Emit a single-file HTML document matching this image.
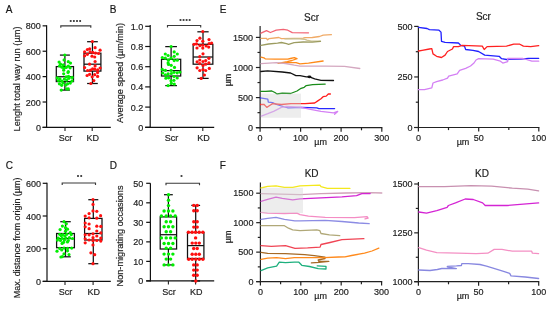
<!DOCTYPE html>
<html><head><meta charset="utf-8"><style>
html,body{margin:0;padding:0;background:#fff;}
body{width:550px;height:310px;overflow:hidden;}
svg{display:block;font-family:"Liberation Sans", sans-serif;will-change:transform;}
text{stroke:#222;stroke-width:0.18px;}
</style></head><body>
<svg width="550" height="310" viewBox="0 0 550 310">
<rect width="550" height="310" fill="#fff"/>
<text x="5.80" y="12.80" font-size="10" text-anchor="start" fill="#111" >A</text>
<line x1="46.60" y1="25.20" x2="46.60" y2="128.00" stroke="#111" stroke-width="1.2"/>
<line x1="42.60" y1="127.40" x2="110.80" y2="127.40" stroke="#111" stroke-width="1.2"/>
<line x1="42.60" y1="127.40" x2="46.60" y2="127.40" stroke="#111" stroke-width="1.2"/>
<text x="40.90" y="130.90" font-size="9" text-anchor="end" fill="#222" >0</text>
<line x1="42.60" y1="102.01" x2="46.60" y2="102.01" stroke="#111" stroke-width="1.2"/>
<text x="40.90" y="105.51" font-size="9" text-anchor="end" fill="#222" >200</text>
<line x1="42.60" y1="76.62" x2="46.60" y2="76.62" stroke="#111" stroke-width="1.2"/>
<text x="40.90" y="80.12" font-size="9" text-anchor="end" fill="#222" >400</text>
<line x1="42.60" y1="51.23" x2="46.60" y2="51.23" stroke="#111" stroke-width="1.2"/>
<text x="40.90" y="54.73" font-size="9" text-anchor="end" fill="#222" >600</text>
<line x1="42.60" y1="25.84" x2="46.60" y2="25.84" stroke="#111" stroke-width="1.2"/>
<text x="40.90" y="29.34" font-size="9" text-anchor="end" fill="#222" >800</text>
<text x="0" y="0" font-size="9" text-anchor="middle" fill="#222" transform="translate(20.00,79.00) rotate(-90)" textLength="105" lengthAdjust="spacingAndGlyphs">Lenght total way run (µm)</text>
<line x1="65.00" y1="127.40" x2="65.00" y2="131.00" stroke="#222" stroke-width="1.1"/>
<text x="65.60" y="141.20" font-size="9" text-anchor="middle" fill="#222" >Scr</text>
<rect x="56.30" y="66.60" width="17.20" height="15.00" fill="none" stroke="#111" stroke-width="1.25"/>
<line x1="56.30" y1="76.75" x2="73.50" y2="76.75" stroke="#111" stroke-width="1.25"/>
<line x1="64.90" y1="55.10" x2="64.90" y2="66.60" stroke="#111" stroke-width="1.25"/>
<line x1="64.90" y1="81.60" x2="64.90" y2="90.10" stroke="#111" stroke-width="1.25"/>
<line x1="59.90" y1="55.10" x2="69.90" y2="55.10" stroke="#111" stroke-width="1.25"/>
<line x1="59.90" y1="90.10" x2="69.90" y2="90.10" stroke="#111" stroke-width="1.25"/>
<circle cx="64.80" cy="55.00" r="1.6" fill="#00ee00"/>
<circle cx="64.10" cy="59.90" r="1.6" fill="#00ee00"/>
<circle cx="59.10" cy="62.10" r="1.6" fill="#00ee00"/>
<circle cx="68.30" cy="61.70" r="1.6" fill="#00ee00"/>
<circle cx="70.50" cy="63.10" r="1.6" fill="#00ee00"/>
<circle cx="60.50" cy="64.20" r="1.6" fill="#00ee00"/>
<circle cx="63.40" cy="64.90" r="1.6" fill="#00ee00"/>
<circle cx="59.50" cy="66.00" r="1.6" fill="#00ee00"/>
<circle cx="68.30" cy="66.00" r="1.6" fill="#00ee00"/>
<circle cx="70.10" cy="67.80" r="1.6" fill="#00ee00"/>
<circle cx="66.20" cy="67.40" r="1.6" fill="#00ee00"/>
<circle cx="61.90" cy="67.20" r="1.6" fill="#00ee00"/>
<circle cx="64.00" cy="68.30" r="1.6" fill="#00ee00"/>
<circle cx="63.70" cy="70.20" r="1.6" fill="#00ee00"/>
<circle cx="68.30" cy="71.50" r="1.6" fill="#00ee00"/>
<circle cx="63.70" cy="73.80" r="1.6" fill="#00ee00"/>
<circle cx="68.00" cy="72.50" r="1.6" fill="#00ee00"/>
<circle cx="68.50" cy="76.30" r="1.6" fill="#00ee00"/>
<circle cx="66.20" cy="76.75" r="1.6" fill="#00ee00"/>
<circle cx="57.20" cy="77.90" r="1.6" fill="#00ee00"/>
<circle cx="59.90" cy="78.80" r="1.6" fill="#00ee00"/>
<circle cx="64.40" cy="79.20" r="1.6" fill="#00ee00"/>
<circle cx="68.90" cy="78.30" r="1.6" fill="#00ee00"/>
<circle cx="72.10" cy="77.40" r="1.6" fill="#00ee00"/>
<circle cx="58.50" cy="80.60" r="1.6" fill="#00ee00"/>
<circle cx="61.70" cy="81.00" r="1.6" fill="#00ee00"/>
<circle cx="66.70" cy="80.10" r="1.6" fill="#00ee00"/>
<circle cx="72.10" cy="80.80" r="1.6" fill="#00ee00"/>
<circle cx="59.40" cy="83.80" r="1.6" fill="#00ee00"/>
<circle cx="63.00" cy="82.90" r="1.6" fill="#00ee00"/>
<circle cx="67.60" cy="83.80" r="1.6" fill="#00ee00"/>
<circle cx="70.30" cy="83.10" r="1.6" fill="#00ee00"/>
<circle cx="61.70" cy="85.30" r="1.6" fill="#00ee00"/>
<circle cx="65.80" cy="85.10" r="1.6" fill="#00ee00"/>
<circle cx="61.30" cy="90.10" r="1.6" fill="#00ee00"/>
<circle cx="66.70" cy="88.90" r="1.6" fill="#00ee00"/>
<circle cx="68.30" cy="88.90" r="1.6" fill="#00ee00"/>
<line x1="92.20" y1="127.40" x2="92.20" y2="131.00" stroke="#222" stroke-width="1.1"/>
<text x="92.80" y="141.20" font-size="9" text-anchor="middle" fill="#222" >KD</text>
<rect x="84.00" y="53.20" width="16.90" height="17.90" fill="none" stroke="#111" stroke-width="1.25"/>
<line x1="84.00" y1="64.20" x2="100.90" y2="64.20" stroke="#111" stroke-width="1.25"/>
<line x1="92.45" y1="41.70" x2="92.45" y2="53.20" stroke="#111" stroke-width="1.25"/>
<line x1="92.45" y1="71.10" x2="92.45" y2="83.50" stroke="#111" stroke-width="1.25"/>
<line x1="87.10" y1="41.70" x2="97.80" y2="41.70" stroke="#111" stroke-width="1.25"/>
<line x1="87.10" y1="83.50" x2="97.80" y2="83.50" stroke="#111" stroke-width="1.25"/>
<circle cx="92.40" cy="41.50" r="1.6" fill="#ff1010"/>
<circle cx="95.10" cy="47.70" r="1.6" fill="#ff1010"/>
<circle cx="87.40" cy="49.60" r="1.6" fill="#ff1010"/>
<circle cx="89.70" cy="48.80" r="1.6" fill="#ff1010"/>
<circle cx="100.10" cy="50.20" r="1.6" fill="#ff1010"/>
<circle cx="84.60" cy="51.90" r="1.6" fill="#ff1010"/>
<circle cx="90.10" cy="51.90" r="1.6" fill="#ff1010"/>
<circle cx="92.80" cy="52.30" r="1.6" fill="#ff1010"/>
<circle cx="95.50" cy="53.10" r="1.6" fill="#ff1010"/>
<circle cx="98.60" cy="53.50" r="1.6" fill="#ff1010"/>
<circle cx="87.40" cy="54.30" r="1.6" fill="#ff1010"/>
<circle cx="84.60" cy="55.80" r="1.6" fill="#ff1010"/>
<circle cx="92.00" cy="56.20" r="1.6" fill="#ff1010"/>
<circle cx="94.70" cy="57.00" r="1.6" fill="#ff1010"/>
<circle cx="95.10" cy="61.50" r="1.6" fill="#ff1010"/>
<circle cx="89.60" cy="64.20" r="1.6" fill="#ff1010"/>
<circle cx="95.10" cy="65.90" r="1.6" fill="#ff1010"/>
<circle cx="84.60" cy="67.60" r="1.6" fill="#ff1010"/>
<circle cx="100.10" cy="68.00" r="1.6" fill="#ff1010"/>
<circle cx="87.60" cy="70.50" r="1.6" fill="#ff1010"/>
<circle cx="90.50" cy="70.10" r="1.6" fill="#ff1010"/>
<circle cx="92.60" cy="68.80" r="1.6" fill="#ff1010"/>
<circle cx="94.70" cy="69.20" r="1.6" fill="#ff1010"/>
<circle cx="97.60" cy="69.90" r="1.6" fill="#ff1010"/>
<circle cx="97.60" cy="72.60" r="1.6" fill="#ff1010"/>
<circle cx="89.60" cy="74.30" r="1.6" fill="#ff1010"/>
<circle cx="87.10" cy="75.50" r="1.6" fill="#ff1010"/>
<circle cx="94.70" cy="74.70" r="1.6" fill="#ff1010"/>
<circle cx="97.60" cy="76.40" r="1.6" fill="#ff1010"/>
<circle cx="92.20" cy="76.80" r="1.6" fill="#ff1010"/>
<circle cx="93.80" cy="80.60" r="1.6" fill="#ff1010"/>
<circle cx="90.90" cy="83.50" r="1.6" fill="#ff1010"/>
<path d="M60.80,27.80 V25.80 H90.80 V27.80" fill="none" stroke="#3a3a3a" stroke-width="1.15"/>
<rect x="69.80" y="20.10" width="1.8" height="1.8" fill="#333"/>
<rect x="72.95" y="20.10" width="1.8" height="1.8" fill="#333"/>
<rect x="76.10" y="20.10" width="1.8" height="1.8" fill="#333"/>
<rect x="79.25" y="20.10" width="1.8" height="1.8" fill="#333"/>
<text x="109.80" y="12.90" font-size="10" text-anchor="start" fill="#111" >B</text>
<line x1="150.20" y1="25.00" x2="150.20" y2="127.90" stroke="#111" stroke-width="1.2"/>
<line x1="145.20" y1="127.30" x2="214.20" y2="127.30" stroke="#111" stroke-width="1.2"/>
<line x1="145.20" y1="127.30" x2="150.20" y2="127.30" stroke="#111" stroke-width="1.2"/>
<text x="143.20" y="130.80" font-size="9" text-anchor="end" fill="#222" >0</text>
<line x1="145.20" y1="107.10" x2="150.20" y2="107.10" stroke="#111" stroke-width="1.2"/>
<text x="143.20" y="110.60" font-size="9" text-anchor="end" fill="#222" >0.2</text>
<line x1="145.20" y1="86.90" x2="150.20" y2="86.90" stroke="#111" stroke-width="1.2"/>
<text x="143.20" y="90.40" font-size="9" text-anchor="end" fill="#222" >0.4</text>
<line x1="145.20" y1="66.70" x2="150.20" y2="66.70" stroke="#111" stroke-width="1.2"/>
<text x="143.20" y="70.20" font-size="9" text-anchor="end" fill="#222" >0.6</text>
<line x1="145.20" y1="46.50" x2="150.20" y2="46.50" stroke="#111" stroke-width="1.2"/>
<text x="143.20" y="50.00" font-size="9" text-anchor="end" fill="#222" >0.8</text>
<line x1="145.20" y1="26.30" x2="150.20" y2="26.30" stroke="#111" stroke-width="1.2"/>
<text x="143.20" y="29.80" font-size="9" text-anchor="end" fill="#222" >1.0</text>
<text x="0" y="0" font-size="9" text-anchor="middle" fill="#222" transform="translate(123.00,72.90) rotate(-90)" textLength="100" lengthAdjust="spacingAndGlyphs">Average speed (µm/min)</text>
<line x1="170.80" y1="127.30" x2="170.80" y2="130.90" stroke="#222" stroke-width="1.1"/>
<text x="171.40" y="141.10" font-size="9" text-anchor="middle" fill="#222" >Scr</text>
<rect x="161.50" y="59.30" width="19.20" height="16.70" fill="none" stroke="#111" stroke-width="1.25"/>
<line x1="161.50" y1="70.60" x2="180.70" y2="70.60" stroke="#111" stroke-width="1.25"/>
<line x1="171.10" y1="46.60" x2="171.10" y2="59.30" stroke="#111" stroke-width="1.25"/>
<line x1="171.10" y1="76.00" x2="171.10" y2="85.60" stroke="#111" stroke-width="1.25"/>
<line x1="165.25" y1="46.60" x2="176.95" y2="46.60" stroke="#111" stroke-width="1.25"/>
<line x1="165.25" y1="85.60" x2="176.95" y2="85.60" stroke="#111" stroke-width="1.25"/>
<circle cx="171.10" cy="46.50" r="1.6" fill="#00ee00"/>
<circle cx="174.20" cy="51.90" r="1.6" fill="#00ee00"/>
<circle cx="165.30" cy="54.00" r="1.6" fill="#00ee00"/>
<circle cx="168.10" cy="55.50" r="1.6" fill="#00ee00"/>
<circle cx="177.30" cy="54.00" r="1.6" fill="#00ee00"/>
<circle cx="174.20" cy="56.30" r="1.6" fill="#00ee00"/>
<circle cx="162.30" cy="57.50" r="1.6" fill="#00ee00"/>
<circle cx="165.30" cy="58.20" r="1.6" fill="#00ee00"/>
<circle cx="171.10" cy="58.20" r="1.6" fill="#00ee00"/>
<circle cx="168.40" cy="60.20" r="1.6" fill="#00ee00"/>
<circle cx="174.20" cy="60.60" r="1.6" fill="#00ee00"/>
<circle cx="177.30" cy="60.20" r="1.6" fill="#00ee00"/>
<circle cx="168.10" cy="62.90" r="1.6" fill="#00ee00"/>
<circle cx="168.50" cy="64.40" r="1.6" fill="#00ee00"/>
<circle cx="171.20" cy="65.30" r="1.6" fill="#00ee00"/>
<circle cx="174.50" cy="67.40" r="1.6" fill="#00ee00"/>
<circle cx="162.30" cy="69.40" r="1.6" fill="#00ee00"/>
<circle cx="165.40" cy="70.30" r="1.6" fill="#00ee00"/>
<circle cx="171.10" cy="70.30" r="1.6" fill="#00ee00"/>
<circle cx="162.70" cy="73.00" r="1.6" fill="#00ee00"/>
<circle cx="165.40" cy="74.80" r="1.6" fill="#00ee00"/>
<circle cx="168.10" cy="73.90" r="1.6" fill="#00ee00"/>
<circle cx="171.30" cy="73.50" r="1.6" fill="#00ee00"/>
<circle cx="174.00" cy="72.30" r="1.6" fill="#00ee00"/>
<circle cx="177.20" cy="72.80" r="1.6" fill="#00ee00"/>
<circle cx="179.90" cy="72.10" r="1.6" fill="#00ee00"/>
<circle cx="165.90" cy="78.20" r="1.6" fill="#00ee00"/>
<circle cx="168.60" cy="77.80" r="1.6" fill="#00ee00"/>
<circle cx="174.00" cy="76.40" r="1.6" fill="#00ee00"/>
<circle cx="177.20" cy="78.00" r="1.6" fill="#00ee00"/>
<circle cx="171.00" cy="80.80" r="1.6" fill="#00ee00"/>
<circle cx="173.90" cy="80.30" r="1.6" fill="#00ee00"/>
<circle cx="171.40" cy="83.30" r="1.6" fill="#00ee00"/>
<circle cx="174.30" cy="84.10" r="1.6" fill="#00ee00"/>
<circle cx="168.10" cy="85.60" r="1.6" fill="#00ee00"/>
<line x1="202.80" y1="127.30" x2="202.80" y2="130.90" stroke="#222" stroke-width="1.1"/>
<text x="203.40" y="141.10" font-size="9" text-anchor="middle" fill="#222" >KD</text>
<rect x="193.15" y="44.30" width="19.70" height="19.90" fill="none" stroke="#111" stroke-width="1.25"/>
<line x1="193.15" y1="57.00" x2="212.85" y2="57.00" stroke="#111" stroke-width="1.25"/>
<line x1="203.00" y1="31.80" x2="203.00" y2="44.30" stroke="#111" stroke-width="1.25"/>
<line x1="203.00" y1="64.20" x2="203.00" y2="78.40" stroke="#111" stroke-width="1.25"/>
<line x1="197.35" y1="31.80" x2="208.65" y2="31.80" stroke="#111" stroke-width="1.25"/>
<line x1="197.35" y1="78.40" x2="208.65" y2="78.40" stroke="#111" stroke-width="1.25"/>
<circle cx="202.80" cy="31.50" r="1.6" fill="#ff1010"/>
<circle cx="199.90" cy="38.20" r="1.6" fill="#ff1010"/>
<circle cx="197.00" cy="40.60" r="1.6" fill="#ff1010"/>
<circle cx="202.80" cy="41.20" r="1.6" fill="#ff1010"/>
<circle cx="209.00" cy="39.60" r="1.6" fill="#ff1010"/>
<circle cx="211.60" cy="43.10" r="1.6" fill="#ff1010"/>
<circle cx="209.10" cy="43.50" r="1.6" fill="#ff1010"/>
<circle cx="194.00" cy="44.30" r="1.6" fill="#ff1010"/>
<circle cx="196.50" cy="43.90" r="1.6" fill="#ff1010"/>
<circle cx="199.90" cy="45.60" r="1.6" fill="#ff1010"/>
<circle cx="202.80" cy="45.20" r="1.6" fill="#ff1010"/>
<circle cx="206.20" cy="46.00" r="1.6" fill="#ff1010"/>
<circle cx="197.00" cy="48.00" r="1.6" fill="#ff1010"/>
<circle cx="202.80" cy="48.10" r="1.6" fill="#ff1010"/>
<circle cx="208.70" cy="47.10" r="1.6" fill="#ff1010"/>
<circle cx="203.00" cy="53.80" r="1.6" fill="#ff1010"/>
<circle cx="199.80" cy="56.50" r="1.6" fill="#ff1010"/>
<circle cx="208.90" cy="58.30" r="1.6" fill="#ff1010"/>
<circle cx="199.80" cy="60.00" r="1.6" fill="#ff1010"/>
<circle cx="197.10" cy="61.80" r="1.6" fill="#ff1010"/>
<circle cx="203.00" cy="61.50" r="1.6" fill="#ff1010"/>
<circle cx="205.70" cy="60.60" r="1.6" fill="#ff1010"/>
<circle cx="208.90" cy="62.80" r="1.6" fill="#ff1010"/>
<circle cx="199.80" cy="63.60" r="1.6" fill="#ff1010"/>
<circle cx="205.70" cy="64.20" r="1.6" fill="#ff1010"/>
<circle cx="203.00" cy="65.60" r="1.6" fill="#ff1010"/>
<circle cx="197.10" cy="67.80" r="1.6" fill="#ff1010"/>
<circle cx="209.30" cy="68.40" r="1.6" fill="#ff1010"/>
<circle cx="199.80" cy="70.50" r="1.6" fill="#ff1010"/>
<circle cx="203.00" cy="69.60" r="1.6" fill="#ff1010"/>
<circle cx="205.70" cy="70.50" r="1.6" fill="#ff1010"/>
<circle cx="204.40" cy="75.00" r="1.6" fill="#ff1010"/>
<circle cx="201.20" cy="78.40" r="1.6" fill="#ff1010"/>
<path d="M167.50,27.50 V25.50 H200.70 V27.50" fill="none" stroke="#3a3a3a" stroke-width="1.15"/>
<rect x="179.60" y="19.10" width="1.8" height="1.8" fill="#333"/>
<rect x="182.65" y="19.10" width="1.8" height="1.8" fill="#333"/>
<rect x="185.70" y="19.10" width="1.8" height="1.8" fill="#333"/>
<rect x="188.75" y="19.10" width="1.8" height="1.8" fill="#333"/>
<text x="5.70" y="168.60" font-size="10" text-anchor="start" fill="#111" >C</text>
<line x1="47.00" y1="182.80" x2="47.00" y2="282.00" stroke="#111" stroke-width="1.2"/>
<line x1="42.70" y1="281.40" x2="110.80" y2="281.40" stroke="#111" stroke-width="1.2"/>
<line x1="42.70" y1="281.40" x2="47.00" y2="281.40" stroke="#111" stroke-width="1.2"/>
<text x="41.10" y="284.90" font-size="9" text-anchor="end" fill="#222" >0</text>
<line x1="42.70" y1="248.70" x2="47.00" y2="248.70" stroke="#111" stroke-width="1.2"/>
<text x="41.10" y="252.20" font-size="9" text-anchor="end" fill="#222" >200</text>
<line x1="42.70" y1="216.00" x2="47.00" y2="216.00" stroke="#111" stroke-width="1.2"/>
<text x="41.10" y="219.50" font-size="9" text-anchor="end" fill="#222" >400</text>
<line x1="42.70" y1="183.30" x2="47.00" y2="183.30" stroke="#111" stroke-width="1.2"/>
<text x="41.10" y="186.80" font-size="9" text-anchor="end" fill="#222" >600</text>
<text x="0" y="0" font-size="9" text-anchor="middle" fill="#222" transform="translate(19.50,237.90) rotate(-90)" textLength="120.5" lengthAdjust="spacingAndGlyphs">Max. distance from origin (µm)</text>
<line x1="65.00" y1="281.40" x2="65.00" y2="285.00" stroke="#222" stroke-width="1.1"/>
<text x="65.60" y="295.20" font-size="9" text-anchor="middle" fill="#222" >Scr</text>
<rect x="56.60" y="233.50" width="17.80" height="14.20" fill="none" stroke="#111" stroke-width="1.25"/>
<line x1="56.60" y1="238.60" x2="74.40" y2="238.60" stroke="#111" stroke-width="1.25"/>
<line x1="65.50" y1="221.70" x2="65.50" y2="233.50" stroke="#111" stroke-width="1.25"/>
<line x1="65.50" y1="247.70" x2="65.50" y2="256.80" stroke="#111" stroke-width="1.25"/>
<line x1="60.25" y1="221.70" x2="70.75" y2="221.70" stroke="#111" stroke-width="1.25"/>
<line x1="60.25" y1="256.80" x2="70.75" y2="256.80" stroke="#111" stroke-width="1.25"/>
<circle cx="64.00" cy="221.70" r="1.6" fill="#00ee00"/>
<circle cx="66.30" cy="223.80" r="1.6" fill="#00ee00"/>
<circle cx="62.40" cy="226.10" r="1.6" fill="#00ee00"/>
<circle cx="65.50" cy="227.70" r="1.6" fill="#00ee00"/>
<circle cx="60.10" cy="229.60" r="1.6" fill="#00ee00"/>
<circle cx="67.50" cy="229.20" r="1.6" fill="#00ee00"/>
<circle cx="65.50" cy="231.20" r="1.6" fill="#00ee00"/>
<circle cx="70.20" cy="232.70" r="1.6" fill="#00ee00"/>
<circle cx="59.70" cy="234.30" r="1.6" fill="#00ee00"/>
<circle cx="62.80" cy="234.60" r="1.6" fill="#00ee00"/>
<circle cx="66.70" cy="234.30" r="1.6" fill="#00ee00"/>
<circle cx="71.30" cy="234.60" r="1.6" fill="#00ee00"/>
<circle cx="61.30" cy="235.80" r="1.6" fill="#00ee00"/>
<circle cx="64.80" cy="236.00" r="1.6" fill="#00ee00"/>
<circle cx="58.20" cy="238.10" r="1.6" fill="#00ee00"/>
<circle cx="62.10" cy="238.30" r="1.6" fill="#00ee00"/>
<circle cx="65.90" cy="238.10" r="1.6" fill="#00ee00"/>
<circle cx="69.40" cy="237.70" r="1.6" fill="#00ee00"/>
<circle cx="72.50" cy="238.50" r="1.6" fill="#00ee00"/>
<circle cx="57.40" cy="240.10" r="1.6" fill="#00ee00"/>
<circle cx="60.50" cy="240.40" r="1.6" fill="#00ee00"/>
<circle cx="64.40" cy="240.10" r="1.6" fill="#00ee00"/>
<circle cx="68.30" cy="240.60" r="1.6" fill="#00ee00"/>
<circle cx="62.10" cy="243.40" r="1.6" fill="#00ee00"/>
<circle cx="63.60" cy="242.30" r="1.6" fill="#00ee00"/>
<circle cx="67.50" cy="241.90" r="1.6" fill="#00ee00"/>
<circle cx="59.70" cy="248.40" r="1.6" fill="#00ee00"/>
<circle cx="64.00" cy="248.10" r="1.6" fill="#00ee00"/>
<circle cx="67.50" cy="248.40" r="1.6" fill="#00ee00"/>
<circle cx="71.70" cy="248.10" r="1.6" fill="#00ee00"/>
<circle cx="57.00" cy="251.20" r="1.6" fill="#00ee00"/>
<circle cx="61.70" cy="250.00" r="1.6" fill="#00ee00"/>
<circle cx="67.50" cy="250.80" r="1.6" fill="#00ee00"/>
<circle cx="64.00" cy="253.90" r="1.6" fill="#00ee00"/>
<circle cx="69.00" cy="254.60" r="1.6" fill="#00ee00"/>
<circle cx="60.90" cy="257.00" r="1.6" fill="#00ee00"/>
<circle cx="62.40" cy="256.60" r="1.6" fill="#00ee00"/>
<line x1="93.10" y1="281.40" x2="93.10" y2="285.00" stroke="#222" stroke-width="1.1"/>
<text x="93.70" y="295.20" font-size="9" text-anchor="middle" fill="#222" >KD</text>
<rect x="84.60" y="218.40" width="17.40" height="21.60" fill="none" stroke="#111" stroke-width="1.25"/>
<line x1="84.60" y1="233.50" x2="102.00" y2="233.50" stroke="#111" stroke-width="1.25"/>
<line x1="93.30" y1="199.70" x2="93.30" y2="218.40" stroke="#111" stroke-width="1.25"/>
<line x1="93.30" y1="240.00" x2="93.30" y2="263.70" stroke="#111" stroke-width="1.25"/>
<line x1="88.30" y1="199.70" x2="98.30" y2="199.70" stroke="#111" stroke-width="1.25"/>
<line x1="88.30" y1="263.70" x2="98.30" y2="263.70" stroke="#111" stroke-width="1.25"/>
<circle cx="93.00" cy="199.50" r="1.6" fill="#ff1010"/>
<circle cx="93.00" cy="204.40" r="1.6" fill="#ff1010"/>
<circle cx="93.00" cy="210.90" r="1.6" fill="#ff1010"/>
<circle cx="96.80" cy="211.30" r="1.6" fill="#ff1010"/>
<circle cx="89.10" cy="213.60" r="1.6" fill="#ff1010"/>
<circle cx="85.20" cy="216.10" r="1.6" fill="#ff1010"/>
<circle cx="100.60" cy="215.70" r="1.6" fill="#ff1010"/>
<circle cx="89.10" cy="217.80" r="1.6" fill="#ff1010"/>
<circle cx="96.80" cy="218.20" r="1.6" fill="#ff1010"/>
<circle cx="85.20" cy="223.00" r="1.6" fill="#ff1010"/>
<circle cx="89.10" cy="224.00" r="1.6" fill="#ff1010"/>
<circle cx="85.20" cy="226.80" r="1.6" fill="#ff1010"/>
<circle cx="96.80" cy="226.20" r="1.6" fill="#ff1010"/>
<circle cx="100.80" cy="226.40" r="1.6" fill="#ff1010"/>
<circle cx="89.10" cy="228.70" r="1.6" fill="#ff1010"/>
<circle cx="96.80" cy="231.00" r="1.6" fill="#ff1010"/>
<circle cx="100.80" cy="232.90" r="1.6" fill="#ff1010"/>
<circle cx="85.20" cy="234.80" r="1.6" fill="#ff1010"/>
<circle cx="89.10" cy="234.80" r="1.6" fill="#ff1010"/>
<circle cx="93.00" cy="233.80" r="1.6" fill="#ff1010"/>
<circle cx="96.80" cy="236.00" r="1.6" fill="#ff1010"/>
<circle cx="93.00" cy="237.70" r="1.6" fill="#ff1010"/>
<circle cx="85.20" cy="238.80" r="1.6" fill="#ff1010"/>
<circle cx="100.80" cy="238.10" r="1.6" fill="#ff1010"/>
<circle cx="89.10" cy="240.00" r="1.6" fill="#ff1010"/>
<circle cx="93.00" cy="240.70" r="1.6" fill="#ff1010"/>
<circle cx="96.80" cy="240.50" r="1.6" fill="#ff1010"/>
<circle cx="100.80" cy="241.10" r="1.6" fill="#ff1010"/>
<circle cx="85.20" cy="242.80" r="1.6" fill="#ff1010"/>
<circle cx="93.00" cy="244.90" r="1.6" fill="#ff1010"/>
<circle cx="90.90" cy="252.80" r="1.6" fill="#ff1010"/>
<circle cx="94.70" cy="254.70" r="1.6" fill="#ff1010"/>
<circle cx="93.00" cy="263.70" r="1.6" fill="#ff1010"/>
<path d="M62.20,185.00 V183.00 H95.50 V185.00" fill="none" stroke="#3a3a3a" stroke-width="1.15"/>
<rect x="77.10" y="175.10" width="1.8" height="1.8" fill="#333"/>
<rect x="80.30" y="175.10" width="1.8" height="1.8" fill="#333"/>
<text x="109.80" y="168.60" font-size="10" text-anchor="start" fill="#111" >D</text>
<line x1="150.40" y1="183.20" x2="150.40" y2="281.50" stroke="#111" stroke-width="1.2"/>
<line x1="146.20" y1="280.90" x2="214.20" y2="280.90" stroke="#111" stroke-width="1.2"/>
<line x1="146.20" y1="280.90" x2="150.40" y2="280.90" stroke="#111" stroke-width="1.2"/>
<text x="143.20" y="284.40" font-size="9" text-anchor="end" fill="#222" >0</text>
<line x1="146.20" y1="261.38" x2="150.40" y2="261.38" stroke="#111" stroke-width="1.2"/>
<text x="143.20" y="264.88" font-size="9" text-anchor="end" fill="#222" >10</text>
<line x1="146.20" y1="241.86" x2="150.40" y2="241.86" stroke="#111" stroke-width="1.2"/>
<text x="143.20" y="245.36" font-size="9" text-anchor="end" fill="#222" >20</text>
<line x1="146.20" y1="222.34" x2="150.40" y2="222.34" stroke="#111" stroke-width="1.2"/>
<text x="143.20" y="225.84" font-size="9" text-anchor="end" fill="#222" >30</text>
<line x1="146.20" y1="202.82" x2="150.40" y2="202.82" stroke="#111" stroke-width="1.2"/>
<text x="143.20" y="206.32" font-size="9" text-anchor="end" fill="#222" >40</text>
<line x1="146.20" y1="183.30" x2="150.40" y2="183.30" stroke="#111" stroke-width="1.2"/>
<text x="143.20" y="186.80" font-size="9" text-anchor="end" fill="#222" >50</text>
<text x="0" y="0" font-size="9" text-anchor="middle" fill="#222" transform="translate(123.00,236.00) rotate(-90)" textLength="101" lengthAdjust="spacingAndGlyphs">Non-migrating occasions</text>
<line x1="168.40" y1="280.90" x2="168.40" y2="284.50" stroke="#222" stroke-width="1.1"/>
<text x="169.00" y="294.70" font-size="9" text-anchor="middle" fill="#222" >Scr</text>
<rect x="160.20" y="216.90" width="16.40" height="32.10" fill="none" stroke="#111" stroke-width="1.25"/>
<line x1="160.20" y1="234.70" x2="176.60" y2="234.70" stroke="#111" stroke-width="1.25"/>
<line x1="168.40" y1="194.70" x2="168.40" y2="216.90" stroke="#111" stroke-width="1.25"/>
<line x1="168.40" y1="249.00" x2="168.40" y2="264.90" stroke="#111" stroke-width="1.25"/>
<line x1="164.00" y1="194.70" x2="172.80" y2="194.70" stroke="#111" stroke-width="1.25"/>
<line x1="164.00" y1="264.90" x2="172.80" y2="264.90" stroke="#111" stroke-width="1.25"/>
<circle cx="168.50" cy="194.70" r="1.72" fill="#00ee00"/>
<circle cx="168.50" cy="200.20" r="1.72" fill="#00ee00"/>
<circle cx="168.50" cy="205.60" r="1.72" fill="#00ee00"/>
<circle cx="164.10" cy="211.00" r="1.72" fill="#00ee00"/>
<circle cx="168.50" cy="211.00" r="1.72" fill="#00ee00"/>
<circle cx="172.90" cy="211.00" r="1.72" fill="#00ee00"/>
<circle cx="161.40" cy="216.00" r="1.72" fill="#00ee00"/>
<circle cx="166.20" cy="216.00" r="1.72" fill="#00ee00"/>
<circle cx="170.60" cy="216.00" r="1.72" fill="#00ee00"/>
<circle cx="175.20" cy="216.00" r="1.72" fill="#00ee00"/>
<circle cx="166.20" cy="221.80" r="1.72" fill="#00ee00"/>
<circle cx="170.60" cy="221.80" r="1.72" fill="#00ee00"/>
<circle cx="164.10" cy="226.80" r="1.72" fill="#00ee00"/>
<circle cx="168.50" cy="226.80" r="1.72" fill="#00ee00"/>
<circle cx="172.90" cy="226.80" r="1.72" fill="#00ee00"/>
<circle cx="166.20" cy="231.80" r="1.72" fill="#00ee00"/>
<circle cx="170.60" cy="231.80" r="1.72" fill="#00ee00"/>
<circle cx="161.40" cy="237.90" r="1.72" fill="#00ee00"/>
<circle cx="166.20" cy="237.90" r="1.72" fill="#00ee00"/>
<circle cx="170.60" cy="237.90" r="1.72" fill="#00ee00"/>
<circle cx="175.20" cy="237.90" r="1.72" fill="#00ee00"/>
<circle cx="164.10" cy="243.50" r="1.72" fill="#00ee00"/>
<circle cx="168.50" cy="243.50" r="1.72" fill="#00ee00"/>
<circle cx="172.90" cy="243.50" r="1.72" fill="#00ee00"/>
<circle cx="166.20" cy="248.30" r="1.72" fill="#00ee00"/>
<circle cx="170.60" cy="248.30" r="1.72" fill="#00ee00"/>
<circle cx="164.10" cy="254.10" r="1.72" fill="#00ee00"/>
<circle cx="168.50" cy="254.10" r="1.72" fill="#00ee00"/>
<circle cx="172.90" cy="254.10" r="1.72" fill="#00ee00"/>
<circle cx="166.20" cy="259.10" r="1.72" fill="#00ee00"/>
<circle cx="170.60" cy="259.10" r="1.72" fill="#00ee00"/>
<circle cx="164.10" cy="264.90" r="1.72" fill="#00ee00"/>
<circle cx="168.50" cy="264.90" r="1.72" fill="#00ee00"/>
<circle cx="172.90" cy="264.90" r="1.72" fill="#00ee00"/>
<line x1="195.60" y1="280.90" x2="195.60" y2="284.50" stroke="#222" stroke-width="1.1"/>
<text x="196.20" y="294.70" font-size="9" text-anchor="middle" fill="#222" >KD</text>
<rect x="187.50" y="232.50" width="16.40" height="26.00" fill="none" stroke="#111" stroke-width="1.25"/>
<line x1="187.50" y1="245.60" x2="203.90" y2="245.60" stroke="#111" stroke-width="1.25"/>
<line x1="195.70" y1="205.40" x2="195.70" y2="232.50" stroke="#111" stroke-width="1.25"/>
<line x1="195.70" y1="258.50" x2="195.70" y2="281.00" stroke="#111" stroke-width="1.25"/>
<line x1="191.30" y1="205.40" x2="200.10" y2="205.40" stroke="#111" stroke-width="1.25"/>
<line x1="191.30" y1="281.00" x2="200.10" y2="281.00" stroke="#111" stroke-width="1.25"/>
<circle cx="193.80" cy="205.40" r="1.72" fill="#ff1010"/>
<circle cx="197.20" cy="205.40" r="1.72" fill="#ff1010"/>
<circle cx="193.80" cy="210.80" r="1.72" fill="#ff1010"/>
<circle cx="197.20" cy="210.80" r="1.72" fill="#ff1010"/>
<circle cx="193.80" cy="221.70" r="1.72" fill="#ff1010"/>
<circle cx="197.20" cy="221.70" r="1.72" fill="#ff1010"/>
<circle cx="193.80" cy="227.10" r="1.72" fill="#ff1010"/>
<circle cx="197.20" cy="227.10" r="1.72" fill="#ff1010"/>
<circle cx="188.40" cy="232.20" r="1.72" fill="#ff1010"/>
<circle cx="192.10" cy="232.20" r="1.72" fill="#ff1010"/>
<circle cx="195.60" cy="232.20" r="1.72" fill="#ff1010"/>
<circle cx="199.20" cy="232.20" r="1.72" fill="#ff1010"/>
<circle cx="202.90" cy="232.20" r="1.72" fill="#ff1010"/>
<circle cx="195.60" cy="237.90" r="1.72" fill="#ff1010"/>
<circle cx="192.20" cy="243.10" r="1.72" fill="#ff1010"/>
<circle cx="195.80" cy="243.10" r="1.72" fill="#ff1010"/>
<circle cx="199.30" cy="243.10" r="1.72" fill="#ff1010"/>
<circle cx="193.70" cy="248.50" r="1.72" fill="#ff1010"/>
<circle cx="197.20" cy="248.50" r="1.72" fill="#ff1010"/>
<circle cx="192.20" cy="254.20" r="1.72" fill="#ff1010"/>
<circle cx="195.80" cy="254.20" r="1.72" fill="#ff1010"/>
<circle cx="199.30" cy="254.20" r="1.72" fill="#ff1010"/>
<circle cx="188.70" cy="259.20" r="1.72" fill="#ff1010"/>
<circle cx="192.20" cy="259.20" r="1.72" fill="#ff1010"/>
<circle cx="195.80" cy="259.20" r="1.72" fill="#ff1010"/>
<circle cx="199.30" cy="259.20" r="1.72" fill="#ff1010"/>
<circle cx="202.90" cy="259.20" r="1.72" fill="#ff1010"/>
<circle cx="193.70" cy="264.90" r="1.72" fill="#ff1010"/>
<circle cx="197.20" cy="264.90" r="1.72" fill="#ff1010"/>
<circle cx="193.70" cy="270.10" r="1.72" fill="#ff1010"/>
<circle cx="197.20" cy="270.10" r="1.72" fill="#ff1010"/>
<circle cx="193.70" cy="275.20" r="1.72" fill="#ff1010"/>
<circle cx="197.20" cy="275.20" r="1.72" fill="#ff1010"/>
<circle cx="195.80" cy="281.00" r="1.72" fill="#ff1010"/>
<path d="M166.00,185.20 V183.20 H199.50 V185.20" fill="none" stroke="#3a3a3a" stroke-width="1.15"/>
<rect x="180.60" y="175.10" width="1.8" height="1.8" fill="#333"/>
<text x="219.80" y="12.90" font-size="10" text-anchor="start" fill="#111" >E</text>
<line x1="260.10" y1="26.00" x2="260.10" y2="128.30" stroke="#222" stroke-width="1.2"/>
<line x1="255.90" y1="127.70" x2="382.40" y2="127.70" stroke="#222" stroke-width="1.2"/>
<line x1="255.90" y1="127.70" x2="260.10" y2="127.70" stroke="#222" stroke-width="1.2"/>
<text x="253.10" y="130.90" font-size="9" text-anchor="end" fill="#222" >0</text>
<line x1="255.90" y1="97.60" x2="260.10" y2="97.60" stroke="#222" stroke-width="1.2"/>
<text x="253.10" y="100.80" font-size="9" text-anchor="end" fill="#222" >500</text>
<line x1="255.90" y1="67.50" x2="260.10" y2="67.50" stroke="#222" stroke-width="1.2"/>
<text x="253.10" y="70.70" font-size="9" text-anchor="end" fill="#222" >1000</text>
<line x1="255.90" y1="37.40" x2="260.10" y2="37.40" stroke="#222" stroke-width="1.2"/>
<text x="253.10" y="40.60" font-size="9" text-anchor="end" fill="#222" >1500</text>
<line x1="257.50" y1="112.65" x2="260.10" y2="112.65" stroke="#222" stroke-width="1.2"/>
<line x1="257.50" y1="82.55" x2="260.10" y2="82.55" stroke="#222" stroke-width="1.2"/>
<line x1="257.50" y1="52.45" x2="260.10" y2="52.45" stroke="#222" stroke-width="1.2"/>
<line x1="260.10" y1="127.70" x2="260.10" y2="131.70" stroke="#222" stroke-width="1.2"/>
<text x="260.10" y="141.00" font-size="9" text-anchor="middle" fill="#222" >0</text>
<line x1="300.60" y1="127.70" x2="300.60" y2="131.70" stroke="#222" stroke-width="1.2"/>
<text x="300.60" y="141.00" font-size="9" text-anchor="middle" fill="#222" >100</text>
<line x1="341.10" y1="127.70" x2="341.10" y2="131.70" stroke="#222" stroke-width="1.2"/>
<text x="341.10" y="141.00" font-size="9" text-anchor="middle" fill="#222" >200</text>
<line x1="381.80" y1="127.70" x2="381.80" y2="131.70" stroke="#222" stroke-width="1.2"/>
<text x="381.80" y="141.00" font-size="9" text-anchor="middle" fill="#222" >300</text>
<line x1="280.30" y1="127.70" x2="280.30" y2="130.30" stroke="#222" stroke-width="1.2"/>
<line x1="320.80" y1="127.70" x2="320.80" y2="130.30" stroke="#222" stroke-width="1.2"/>
<line x1="361.50" y1="127.70" x2="361.50" y2="130.30" stroke="#222" stroke-width="1.2"/>
<text x="311.60" y="21.00" font-size="10" text-anchor="middle" fill="#222" >Scr</text>
<text x="320.60" y="144.60" font-size="9" text-anchor="middle" fill="#222" >µm</text>
<text x="0" y="0" font-size="9" text-anchor="middle" fill="#222" transform="translate(230.50,80.00) rotate(-90)" >µm</text>
<polyline points="261.0,33.2 266.5,30.6 270.4,32.5 276.2,30.2 283.3,29.4 287.8,30.2 292.3,32.6 308.5,32.8" fill="none" stroke="#f26474" stroke-width="1.3" stroke-linejoin="round" stroke-linecap="round" opacity="1"/>
<polyline points="261.0,38.3 266.5,38.3 267.5,39.9 269.1,38.6 278.8,37.5 281.4,38.6 294.1,38.4 303.2,38.2 305.0,37.6 312.3,37.5 319.5,36.5 323.2,35.2 331.4,34.7" fill="none" stroke="#f0aa66" stroke-width="1.3" stroke-linejoin="round" stroke-linecap="round" opacity="1"/>
<polyline points="285.0,38.9 296.8,38.6 305.0,39.3 306.8,40.2 311.4,41.1 320.5,41.1" fill="none" stroke="#c8c090" stroke-width="1.3" stroke-linejoin="round" stroke-linecap="round" opacity="1"/>
<polyline points="261.0,45.4 268.5,44.0 277.5,43.1 281.4,42.5 286.5,43.7 288.6,44.3 294.1,42.7 303.2,42.0 312.3,42.2 320.5,41.3" fill="none" stroke="#9c9c60" stroke-width="1.3" stroke-linejoin="round" stroke-linecap="round" opacity="1"/>
<polyline points="261.0,57.2 263.9,57.8 265.2,58.8 274.9,59.1 287.8,59.1 290.4,58.5 294.3,57.6 297.0,58.7 292.0,60.5 287.3,61.7 278.1,63.3 286.5,62.3 296.1,62.6 300.0,63.8 308.5,63.1 323.1,61.0" fill="none" stroke="#ff8a18" stroke-width="1.3" stroke-linejoin="round" stroke-linecap="round" opacity="1"/>
<polyline points="261.0,63.6 276.6,62.6 285.5,63.5 294.3,65.2 300.0,66.1 325.7,66.1 344.5,66.3 359.8,68.5" fill="none" stroke="#d4a8c0" stroke-width="1.3" stroke-linejoin="round" stroke-linecap="round" opacity="1"/>
<polyline points="260.8,71.5 267.6,70.9 282.3,72.0 290.6,73.0 295.9,75.7 300.0,75.7 306.3,76.8 309.4,76.8 314.7,78.9 321.0,80.3 333.5,80.5" fill="none" stroke="#111111" stroke-width="1.3" stroke-linejoin="round" stroke-linecap="round" opacity="1"/>
<polyline points="260.8,91.4 265.5,91.4 271.8,91.0 274.9,92.5 277.0,94.0 282.3,93.1 290.6,93.5 297.0,91.0 301.1,88.3 304.2,87.3 306.3,85.6 312.6,84.7 325.2,84.1" fill="none" stroke="#1a8c1a" stroke-width="1.3" stroke-linejoin="round" stroke-linecap="round" opacity="1"/>
<polyline points="260.4,97.9 267.8,99.2 268.3,102.1 272.6,102.6 276.5,104.5 281.4,106.0 288.1,107.9 302.0,107.4 316.8,107.8 318.9,108.6 334.6,108.6" fill="none" stroke="#2828ff" stroke-width="1.3" stroke-linejoin="round" stroke-linecap="round" opacity="1"/>
<polyline points="260.6,104.5 263.9,104.3 266.8,107.4 269.7,105.5 272.6,103.6 281.4,104.5 291.0,103.6 305.0,103.6 314.7,103.0 317.8,100.9 321.0,98.8 323.1,96.7 326.2,96.1 328.3,94.0 330.4,94.0" fill="none" stroke="#ff1e1e" stroke-width="1.3" stroke-linejoin="round" stroke-linecap="round" opacity="1"/>
<polyline points="261.3,116.1 267.8,113.7 273.6,111.3 281.4,107.4 286.2,106.5 300.0,107.2 310.5,109.3 321.0,111.4 333.5,112.8 337.7,111.4 334.6,114.2" fill="none" stroke="#d480f4" stroke-width="1.3" stroke-linejoin="round" stroke-linecap="round" opacity="1"/>
<ellipse cx="309.4" cy="76.8" rx="2.0" ry="1.4" fill="#111"/>
<rect x="261" y="93.6" width="40" height="24.2" fill="#d8d8d8" opacity="0.45"/>
<line x1="418.40" y1="26.40" x2="418.40" y2="128.10" stroke="#222" stroke-width="1.2"/>
<line x1="414.20" y1="127.50" x2="539.40" y2="127.50" stroke="#222" stroke-width="1.2"/>
<line x1="414.20" y1="127.50" x2="418.40" y2="127.50" stroke="#222" stroke-width="1.2"/>
<text x="412.60" y="130.70" font-size="9" text-anchor="end" fill="#222" >0</text>
<line x1="414.20" y1="76.95" x2="418.40" y2="76.95" stroke="#222" stroke-width="1.2"/>
<text x="412.60" y="80.15" font-size="9" text-anchor="end" fill="#222" >250</text>
<line x1="414.20" y1="26.40" x2="418.40" y2="26.40" stroke="#222" stroke-width="1.2"/>
<text x="412.60" y="29.60" font-size="9" text-anchor="end" fill="#222" >500</text>
<line x1="415.80" y1="102.20" x2="418.40" y2="102.20" stroke="#222" stroke-width="1.2"/>
<line x1="415.80" y1="51.70" x2="418.40" y2="51.70" stroke="#222" stroke-width="1.2"/>
<line x1="418.40" y1="127.50" x2="418.40" y2="131.50" stroke="#222" stroke-width="1.2"/>
<text x="418.40" y="140.80" font-size="9" text-anchor="middle" fill="#222" >0</text>
<line x1="478.70" y1="127.50" x2="478.70" y2="131.50" stroke="#222" stroke-width="1.2"/>
<text x="478.70" y="140.80" font-size="9" text-anchor="middle" fill="#222" >50</text>
<line x1="538.80" y1="127.50" x2="538.80" y2="131.50" stroke="#222" stroke-width="1.2"/>
<text x="538.80" y="140.80" font-size="9" text-anchor="middle" fill="#222" >100</text>
<line x1="448.50" y1="127.50" x2="448.50" y2="130.10" stroke="#222" stroke-width="1.2"/>
<line x1="508.80" y1="127.50" x2="508.80" y2="130.10" stroke="#222" stroke-width="1.2"/>
<text x="483.40" y="19.50" font-size="10" text-anchor="middle" fill="#222" >Scr</text>
<text x="463.00" y="144.60" font-size="9" text-anchor="middle" fill="#222" >µm</text>
<polyline points="418.5,27.3 427.0,28.5 429.4,29.7 439.0,30.2 441.0,32.1 441.5,41.3 445.1,42.3 458.4,43.0 460.8,45.4 464.5,46.2 465.7,49.5 473.0,50.3 478.6,51.5 484.7,55.1 499.2,56.3 501.6,58.7 506.5,59.5 521.0,59.2 528.3,58.3 538.7,58.3" fill="none" stroke="#2020ff" stroke-width="1.3" stroke-linejoin="round" stroke-linecap="round" opacity="1"/>
<polyline points="418.5,51.0 422.1,50.3 429.4,49.0 431.8,48.6 433.0,53.9 436.6,56.3 441.5,57.5 445.1,55.1 447.5,51.5 452.4,49.0 453.6,46.6 458.4,46.6 462.1,45.4 482.3,46.1 484.2,49.5 487.1,46.6 506.5,46.1 513.7,44.2 519.8,44.2 523.4,46.1 530.7,46.6 538.7,45.7" fill="none" stroke="#ff2020" stroke-width="1.3" stroke-linejoin="round" stroke-linecap="round" opacity="1"/>
<polyline points="418.5,89.7 424.5,89.7 431.8,87.8 433.0,83.0 436.6,81.7 442.7,80.0 447.5,78.1 448.7,76.2 457.2,73.8 459.6,70.4 465.7,68.4 470.5,66.0 474.0,63.0 476.0,60.0 478.6,58.7 493.2,59.2 500.4,61.2 502.8,63.1 507.7,61.6 507.7,58.5 523.0,58.5 531.9,61.2 538.7,61.2" fill="none" stroke="#d480f4" stroke-width="1.3" stroke-linejoin="round" stroke-linecap="round" opacity="1"/>
<text x="219.80" y="168.60" font-size="10" text-anchor="start" fill="#111" >F</text>
<line x1="260.40" y1="182.60" x2="260.40" y2="282.20" stroke="#222" stroke-width="1.2"/>
<line x1="256.20" y1="281.60" x2="382.20" y2="281.60" stroke="#222" stroke-width="1.2"/>
<line x1="256.20" y1="281.60" x2="260.40" y2="281.60" stroke="#222" stroke-width="1.2"/>
<text x="253.40" y="284.80" font-size="9" text-anchor="end" fill="#222" >0</text>
<line x1="256.20" y1="252.13" x2="260.40" y2="252.13" stroke="#222" stroke-width="1.2"/>
<text x="253.40" y="255.33" font-size="9" text-anchor="end" fill="#222" >500</text>
<line x1="256.20" y1="222.67" x2="260.40" y2="222.67" stroke="#222" stroke-width="1.2"/>
<text x="253.40" y="225.87" font-size="9" text-anchor="end" fill="#222" >1000</text>
<line x1="256.20" y1="193.20" x2="260.40" y2="193.20" stroke="#222" stroke-width="1.2"/>
<text x="253.40" y="196.40" font-size="9" text-anchor="end" fill="#222" >1500</text>
<line x1="257.80" y1="266.87" x2="260.40" y2="266.87" stroke="#222" stroke-width="1.2"/>
<line x1="257.80" y1="237.40" x2="260.40" y2="237.40" stroke="#222" stroke-width="1.2"/>
<line x1="257.80" y1="207.93" x2="260.40" y2="207.93" stroke="#222" stroke-width="1.2"/>
<line x1="260.40" y1="281.60" x2="260.40" y2="285.60" stroke="#222" stroke-width="1.2"/>
<text x="260.40" y="294.90" font-size="9" text-anchor="middle" fill="#222" >0</text>
<line x1="300.80" y1="281.60" x2="300.80" y2="285.60" stroke="#222" stroke-width="1.2"/>
<text x="300.80" y="294.90" font-size="9" text-anchor="middle" fill="#222" >100</text>
<line x1="341.20" y1="281.60" x2="341.20" y2="285.60" stroke="#222" stroke-width="1.2"/>
<text x="341.20" y="294.90" font-size="9" text-anchor="middle" fill="#222" >200</text>
<line x1="381.60" y1="281.60" x2="381.60" y2="285.60" stroke="#222" stroke-width="1.2"/>
<text x="381.60" y="294.90" font-size="9" text-anchor="middle" fill="#222" >300</text>
<line x1="280.60" y1="281.60" x2="280.60" y2="284.20" stroke="#222" stroke-width="1.2"/>
<line x1="321.00" y1="281.60" x2="321.00" y2="284.20" stroke="#222" stroke-width="1.2"/>
<line x1="361.40" y1="281.60" x2="361.40" y2="284.20" stroke="#222" stroke-width="1.2"/>
<text x="311.60" y="177.00" font-size="10" text-anchor="middle" fill="#222" >KD</text>
<text x="320.60" y="298.50" font-size="9" text-anchor="middle" fill="#222" >µm</text>
<text x="0" y="0" font-size="9" text-anchor="middle" fill="#222" transform="translate(230.80,236.80) rotate(-90)" >µm</text>
<polyline points="261.0,188.0 267.6,186.3 276.0,185.9 284.4,187.3 292.7,187.3 300.0,185.9 319.9,185.2 321.0,186.7 327.3,188.4 349.9,188.4" fill="none" stroke="#f4e81c" stroke-width="1.3" stroke-linejoin="round" stroke-linecap="round" opacity="1"/>
<polyline points="261.0,193.6 300.0,194.7 321.0,193.6 346.1,193.0 369.2,192.6 381.8,193.0" fill="none" stroke="#d0a0b8" stroke-width="1.3" stroke-linejoin="round" stroke-linecap="round" opacity="1"/>
<polyline points="261.0,201.4 267.6,199.3 276.0,197.2 282.3,198.4 292.7,199.9 300.0,198.9 321.0,197.8 341.9,196.8 356.6,195.7 361.8,193.6 370.2,193.6" fill="none" stroke="#d424d4" stroke-width="1.3" stroke-linejoin="round" stroke-linecap="round" opacity="1"/>
<polyline points="261.0,212.3 267.6,213.1 284.4,213.5 296.9,213.1 300.0,214.6 308.4,216.1 325.2,217.3 354.5,217.7 367.1,216.7 368.1,218.2 365.0,218.8" fill="none" stroke="#f48cc4" stroke-width="1.3" stroke-linejoin="round" stroke-linecap="round" opacity="1"/>
<polyline points="261.0,219.4 267.6,218.4 276.0,217.3 284.4,219.4 294.8,220.9 300.0,220.9 325.2,220.3 341.9,221.5 358.7,223.0 369.2,223.6" fill="none" stroke="#8c8ce4" stroke-width="1.3" stroke-linejoin="round" stroke-linecap="round" opacity="1"/>
<polyline points="261.0,225.7 284.4,225.7 288.5,228.2 292.7,229.9 300.0,230.7 316.8,229.9 319.9,230.7 321.0,233.5 329.4,234.9 339.8,235.6" fill="none" stroke="#b0a878" stroke-width="1.3" stroke-linejoin="round" stroke-linecap="round" opacity="1"/>
<polyline points="261.0,245.7 271.3,246.3 285.5,245.7 295.0,248.4 307.6,247.9 320.1,247.1 321.0,244.5 330.0,242.5 341.9,239.7 363.9,238.7" fill="none" stroke="#f04454" stroke-width="1.3" stroke-linejoin="round" stroke-linecap="round" opacity="1"/>
<polyline points="261.0,252.3 267.7,253.3 285.5,253.7 295.0,254.2 304.7,254.7 314.3,255.6 325.0,257.1 325.0,258.5 318.2,260.0 318.7,261.4 328.8,261.4 319.2,262.4 311.4,262.9" fill="none" stroke="#a66a26" stroke-width="1.3" stroke-linejoin="round" stroke-linecap="round" opacity="1"/>
<polyline points="261.0,259.4 267.7,258.1 276.6,257.6 285.5,258.7 294.3,257.6 312.4,257.6 324.0,257.6 338.7,257.0 345.0,256.9 351.6,255.5 364.5,253.2 372.0,251.0 378.8,248.1" fill="none" stroke="#ff8a1c" stroke-width="1.3" stroke-linejoin="round" stroke-linecap="round" opacity="1"/>
<polyline points="261.0,270.6 267.7,267.9 276.6,266.1 279.3,262.2 285.5,262.6 294.3,262.2 298.9,262.2 301.8,265.3 309.5,266.5 318.2,268.7 326.0,269.0 326.0,266.3 317.2,265.8" fill="none" stroke="#1eb07e" stroke-width="1.3" stroke-linejoin="round" stroke-linecap="round" opacity="1"/>
<rect x="261" y="187.8" width="42" height="25.3" fill="#d8d8d8" opacity="0.45"/>
<line x1="418.40" y1="182.00" x2="418.40" y2="282.30" stroke="#222" stroke-width="1.2"/>
<line x1="414.20" y1="281.70" x2="539.30" y2="281.70" stroke="#222" stroke-width="1.2"/>
<line x1="414.20" y1="281.70" x2="418.40" y2="281.70" stroke="#222" stroke-width="1.2"/>
<text x="412.60" y="284.90" font-size="9" text-anchor="end" fill="#222" >1000</text>
<line x1="414.20" y1="232.85" x2="418.40" y2="232.85" stroke="#222" stroke-width="1.2"/>
<text x="412.60" y="236.05" font-size="9" text-anchor="end" fill="#222" >1250</text>
<line x1="414.20" y1="184.00" x2="418.40" y2="184.00" stroke="#222" stroke-width="1.2"/>
<text x="412.60" y="187.20" font-size="9" text-anchor="end" fill="#222" >1500</text>
<line x1="415.80" y1="257.27" x2="418.40" y2="257.27" stroke="#222" stroke-width="1.2"/>
<line x1="415.80" y1="208.43" x2="418.40" y2="208.43" stroke="#222" stroke-width="1.2"/>
<line x1="418.40" y1="281.70" x2="418.40" y2="285.70" stroke="#222" stroke-width="1.2"/>
<text x="418.40" y="295.00" font-size="9" text-anchor="middle" fill="#222" >0</text>
<line x1="478.60" y1="281.70" x2="478.60" y2="285.70" stroke="#222" stroke-width="1.2"/>
<text x="478.60" y="295.00" font-size="9" text-anchor="middle" fill="#222" >50</text>
<line x1="538.70" y1="281.70" x2="538.70" y2="285.70" stroke="#222" stroke-width="1.2"/>
<text x="538.70" y="295.00" font-size="9" text-anchor="middle" fill="#222" >100</text>
<line x1="448.50" y1="281.70" x2="448.50" y2="284.30" stroke="#222" stroke-width="1.2"/>
<line x1="508.60" y1="281.70" x2="508.60" y2="284.30" stroke="#222" stroke-width="1.2"/>
<text x="482.00" y="177.00" font-size="10" text-anchor="middle" fill="#222" >KD</text>
<text x="463.00" y="298.50" font-size="9" text-anchor="middle" fill="#222" >µm</text>
<polyline points="418.8,186.6 444.5,186.7 471.0,185.6 491.6,186.1 512.3,188.2 527.8,189.2 538.6,190.8" fill="none" stroke="#c890b0" stroke-width="1.3" stroke-linejoin="round" stroke-linecap="round" opacity="1"/>
<polyline points="418.8,212.0 426.5,213.2 436.8,210.6 447.1,207.3 448.4,205.5 455.5,202.9 465.2,199.0 473.3,199.5 482.6,202.9 485.2,205.5 507.1,205.5 538.6,202.9" fill="none" stroke="#d424d4" stroke-width="1.3" stroke-linejoin="round" stroke-linecap="round" opacity="1"/>
<polyline points="418.8,247.6 426.5,250.1 436.8,252.7 457.5,253.2 476.1,253.7 487.8,253.2 494.2,249.4 502.0,249.4 512.3,251.2 531.7,251.2 532.4,253.2 538.6,253.7" fill="none" stroke="#f490c4" stroke-width="1.3" stroke-linejoin="round" stroke-linecap="round" opacity="1"/>
<polyline points="418.8,270.0 430.0,270.5 437.3,269.5 441.8,268.5 456.4,268.6 447.3,266.8 447.3,266.4 456.4,265.9 461.4,265.5 461.8,263.6 468.2,263.6 480.0,264.5 486.5,266.1 502.0,270.8 509.7,273.4 511.0,275.9 525.2,277.0 538.6,278.5" fill="none" stroke="#8888e0" stroke-width="1.3" stroke-linejoin="round" stroke-linecap="round" opacity="1"/>
</svg>
</body></html>
